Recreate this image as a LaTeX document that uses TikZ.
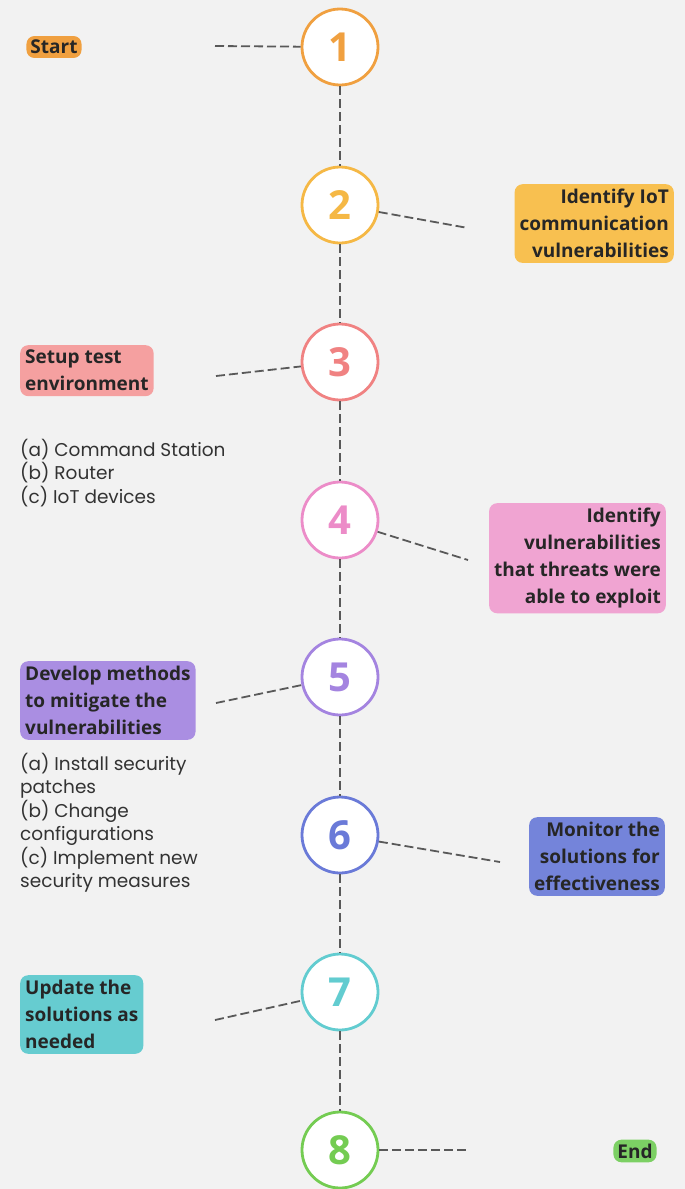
\documentclass[tikz,border=0pt]{standalone}
\usepackage{fontspec}
\setmainfont{Open Sans}
\newfontfamily\lstfont{Poppins}
\begin{document}
\begin{tikzpicture}[x=1pt,y=-1pt,
 circ/.style={circle,draw=#1,line width=2.8pt,fill=white,minimum size=76pt,inner sep=0pt,text=#1,font=\fontsize{40}{40}\selectfont\bfseries},
 lab/.style={fill=#1,rounded corners=8pt,inner sep=5pt,font=\fontsize{19}{27}\selectfont\bfseries,text=black!85},
 lst/.style={align=left,anchor=north west,inner sep=0pt,font=\lstfont\fontsize{18.5}{23.5}\selectfont,text=black!80},
 con/.style={draw=black!65,dashed,dash pattern=on 9pt off 4pt,line width=1.8pt}]
\fill[black!5] (0,0) rectangle (685,1189);
\useasboundingbox (0,0) rectangle (685,1189);
\definecolor{c1}{HTML}{F0A040}\definecolor{c2}{HTML}{F5B845}\definecolor{c3}{HTML}{F08282}
\definecolor{c4}{HTML}{EC8CC8}\definecolor{c5}{HTML}{A484E0}\definecolor{c6}{HTML}{6A7AD8}
\definecolor{c7}{HTML}{62CCD0}\definecolor{c8}{HTML}{74CC52}
\definecolor{f1}{HTML}{F0A040}\definecolor{f2}{HTML}{F8C050}\definecolor{f3}{HTML}{F5A0A0}
\definecolor{f4}{HTML}{F0A4D2}\definecolor{f5}{HTML}{AA8EE2}\definecolor{f6}{HTML}{7484DA}
\definecolor{f7}{HTML}{66CCD0}\definecolor{f8}{HTML}{7CD064}
\foreach \i/\y in {1/47,2/205,3/362,4/520,5/677,6/835,7/992,8/1150}
  \node[circ=c\i] (n\i) at (340,\y) {\i};
\foreach \a/\b in {1/2,2/3,3/4,4/5,5/6,6/7,7/8} \draw[con] (n\a) -- (n\b);
\node[lab=f1,inner sep=4pt] (s) at (54,47) {Start};
\coordinate (s1) at (215,46);
\draw[con] (s1) -- (n1);
\node[lab=f2,align=right,anchor=north east] (l2) at (674,184) {Identify IoT\\communication\\vulnerabilities};
\coordinate (e2) at (468,228); \draw[con] (n2) -- (e2);
\node[lab=f3,align=left,anchor=north west] (l3) at (20,345) {Setup test\\environment};
\coordinate (e3) at (216,376); \draw[con] (e3) -- (n3);
\node[lst] (t3) at (20,439) {(a) Command Station\\(b) Router\\(c) IoT devices};
\node[lab=f4,align=right,anchor=north east] (l4) at (666,503) {Identify\\vulnerabilities\\that threats were\\able to exploit};
\coordinate (e4) at (468,560); \draw[con] (n4) -- (e4);
\node[lab=f5,align=left,anchor=north west] (l5) at (20,661) {Develop methods\\to mitigate the\\vulnerabilities};
\coordinate (e5) at (216,703); \draw[con] (e5) -- (n5);
\node[lst] (t5) at (20,753) {(a) Install security\\patches\\(b) Change\\configurations\\(c) Implement new\\security measures};
\node[lab=f6,align=right,anchor=north east] (l6) at (665,817) {Monitor the\\solutions for\\effectiveness};
\coordinate (e6) at (500,862); \draw[con] (n6) -- (e6);
\node[lab=f7,align=left,anchor=north west] (l7) at (20,975) {Update the\\solutions as\\needed};
\coordinate (e7) at (215,1020); \draw[con] (e7) -- (n7);
\node[lab=f8,inner sep=4pt] (en) at (635,1151) {End};
\coordinate (e8) at (468,1150); \draw[con] (n8) -- (e8);
\end{tikzpicture}
\end{document}
